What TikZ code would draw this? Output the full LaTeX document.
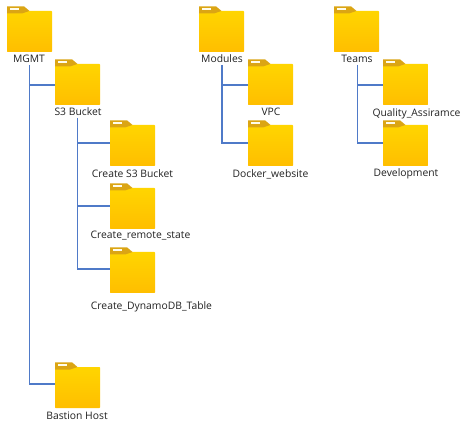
\documentclass[tikz,border=0pt]{standalone}
\usepackage{fontspec}
\setmainfont{Open Sans}
\definecolor{ftop}{HTML}{FFD500}
\definecolor{fbot}{HTML}{FFBE00}
\definecolor{ftab}{HTML}{DBA514}
\definecolor{wire}{HTML}{4F7AC8}
\definecolor{txt}{HTML}{222222}
\tikzset{
  x=0.75pt,y=-0.75pt,
  folderbody/.style={inner sep=0pt,outer sep=0pt,minimum width=33.75pt,minimum height=30.75pt,anchor=north west,top color=ftop,bottom color=fbot,rounded corners=0.4pt},
  foldertab/.style={fill=ftab},
  folderslit/.style={fill=white!92!ftop},
  folderlabel/.style={text=txt,font=\fontsize{7.75}{9}\selectfont,inner sep=0pt,anchor=base},
  wireline/.style={draw=wire,line width=1pt}
}
\newcommand{\folder}[6]{% name, x, y (tab top), label, label centre x, label baseline y
  \node[folderbody] (#1) at (#2,#3+5) {};
  \fill[foldertab] (#2,#3+0.3) -- (#2+17,#3+0.3) -- (#2+22.5,#3+5) -- (#2+15,#3+7.5) -- (#2,#3+7.5) -- cycle;
  \fill[folderslit] (#2+3,#3+2.4) rectangle (#2+12,#3+4.4);
  \node[folderlabel] (#1-l) at (#5,#6+1) {#4};
}
\begin{document}
\begin{tikzpicture}
\useasboundingbox (0,0) rectangle (474,434);
\fill[white] (0,0) rectangle (474,434);
\coordinate (t1) at (29.5,65);
\coordinate (j1) at (29.5,85);
\coordinate (j2) at (29.5,384);
\coordinate (t3) at (77.7,118);
\coordinate (j3) at (77.7,143);
\coordinate (j4) at (77.7,206);
\coordinate (j5) at (77.7,269);
\coordinate (t6) at (222,65);
\coordinate (j6) at (222,85);
\coordinate (j7) at (222,143);
\coordinate (t8) at (357.3,65);
\coordinate (j8) at (357.3,85);
\coordinate (j9) at (357.3,143);
\folder{mgmt}{7}{6}{MGMT}{29}{62}
\folder{s3}{55}{59}{S3 Bucket}{78}{115}
\folder{creates3}{110}{120}{Create S3 Bucket}{132.5}{177}
\folder{remote}{110}{183}{Create\_remote\_state}{140.5}{238}
\folder{dynamo}{110}{247}{Create\_DynamoDB\_Table}{151.5}{308}
\folder{bastion}{55}{362}{Bastion Host}{77}{418}
\folder{modules}{199}{6}{Modules}{222}{62}
\folder{vpc}{248}{59}{VPC}{271}{115}
\folder{docker}{248}{120}{Docker\_website}{270.5}{177}
\folder{teams}{334}{6}{Teams}{357}{62}
\folder{qa}{383}{59}{Quality\_Assiramce}{416.5}{116}
\folder{dev}{383}{120}{Development}{406}{176}
\draw[wireline] (t1) -- (j2) -- (j2 -| bastion.west);
\draw[wireline] (j1) -- (j1 -| s3.west);
\draw[wireline] (t3) -- (j5) -- (j5 -| dynamo.west);
\draw[wireline] (j3) -- (j3 -| creates3.west);
\draw[wireline] (j4) -- (j4 -| remote.west);
\draw[wireline] (t6) -- (j7) -- (j7 -| docker.west);
\draw[wireline] (j6) -- (j6 -| vpc.west);
\draw[wireline] (t8) -- (j9) -- (j9 -| dev.west);
\draw[wireline] (j8) -- (j8 -| qa.west);
\end{tikzpicture}
\end{document}
